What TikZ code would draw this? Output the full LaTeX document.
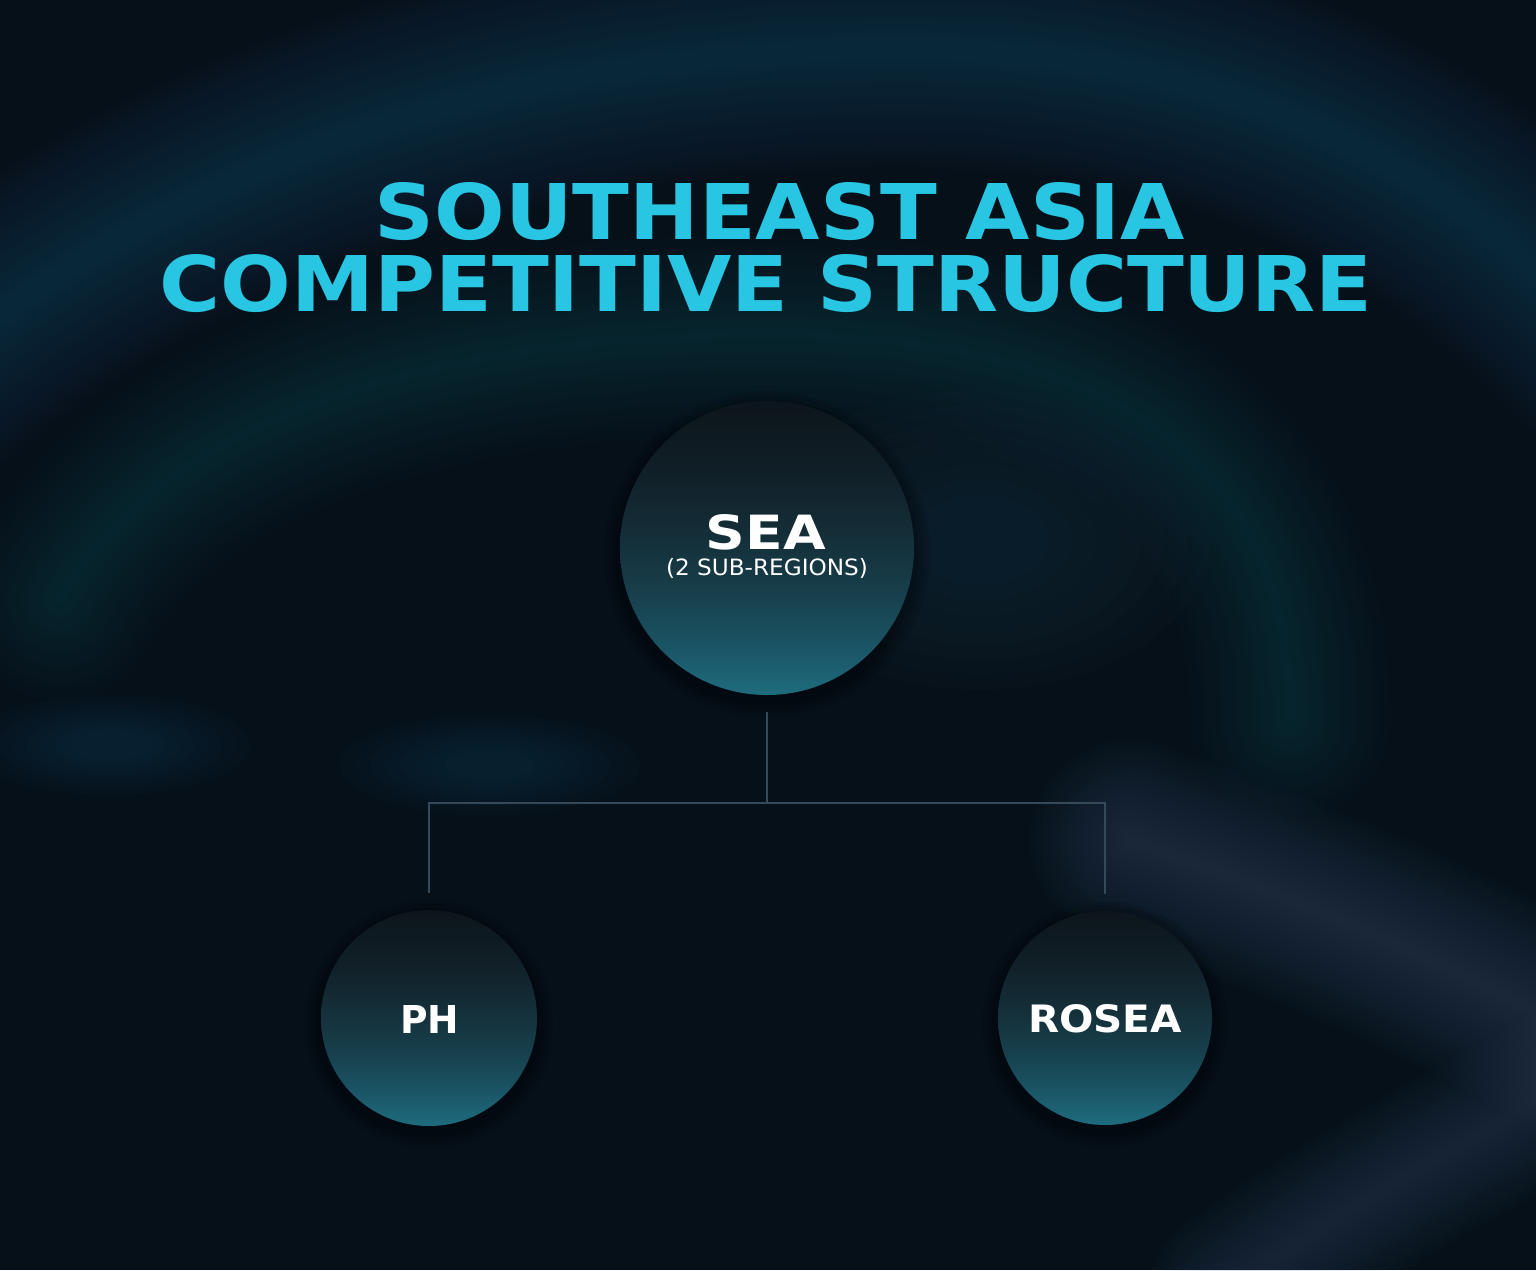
\documentclass[tikz,border=0pt]{standalone}
\usepackage{fontspec}
\setmainfont{DejaVu Sans}
\definecolor{bgbase}{HTML}{061019}
\definecolor{titlecol}{HTML}{29C6E3}
\definecolor{bandA}{HTML}{3A6A8C}
\definecolor{bandB}{HTML}{285675}
\definecolor{bandC}{HTML}{5A7A94}
\definecolor{glowT}{HTML}{11597A}
\definecolor{conncol}{HTML}{34495A}
\definecolor{cA}{HTML}{1E6C7E}
\definecolor{cB}{HTML}{1A5566}
\definecolor{cC}{HTML}{17404C}
\definecolor{cD}{HTML}{142D37}
\definecolor{cE}{HTML}{101E26}
\definecolor{cF}{HTML}{0C151B}
\pgfdeclareverticalshading{bub}{100bp}{color(0bp)=(cA); color(25bp)=(cA); color(33bp)=(cB); color(42bp)=(cC); color(53bp)=(cD); color(64bp)=(cE); color(75bp)=(cF); color(100bp)=(cF)}
\tikzset{
  conn/.style={draw=conncol, line width=2bp},
  bubble/.style={circle, inner sep=0pt, shading=bub, draw=none},
  lbl/.style={inner sep=0pt, text=white, font=\bfseries},
  ttl/.style={inner sep=0pt, text=titlecol, font=\bfseries},
}
\newcommand{\softband}[3]{%
  \foreach \w in {10,20,...,#3}{%
    \draw[#1, line width=\w bp, opacity=0.02, line cap=round] #2;}}
\begin{document}
\begin{tikzpicture}[x=1bp,y=-1bp]
\path[use as bounding box, fill=bgbase] (0,0) rectangle (1536,1270);
\begin{scope}
\clip (0,0) rectangle (1536,1270);
% soft swirling background
\softband{bandA}{(-60,360) .. controls (150,190) and (450,60) .. (850,50) .. controls (1150,40) and (1400,120) .. (1600,330)}{240}
\softband{bandB}{(60,600) .. controls (170,400) and (480,330) .. (800,335) .. controls (1100,345) and (1290,450) .. (1290,720)}{200}
\softband{bandC}{(1130,840) .. controls (1300,900) and (1450,960) .. (1620,1060)}{200}
\softband{bandC}{(1230,1290) .. controls (1340,1210) and (1450,1150) .. (1580,1080)}{160}
\foreach \r in {1,0.9,...,0.2}{
  \fill[glowT, opacity=0.04] (110,745) ellipse ({140*\r} and {50*\r});
  \fill[glowT, opacity=0.035] (490,765) ellipse ({150*\r} and {50*\r});
  \fill[bandB, opacity=0.03] (980,540) ellipse ({230*\r} and {150*\r});
}
\end{scope}
% title
\node[ttl] (t1) at (780,211.5) {\resizebox{810bp}{57bp}{SOUTHEAST ASIA}};
\node[ttl] (t2) at (766,284) {\resizebox{1212bp}{57bp}{COMPETITIVE STRUCTURE}};
% shadows of circles
\foreach \d in {16,12,8,4}{
  \fill[black, opacity=0.09] (767,554) circle ({147+\d});
  \fill[black, opacity=0.09] (429,1024) circle ({108+\d});
  \fill[black, opacity=0.09] (1105,1024) circle ({107+\d});
}
% circles
\node[bubble, minimum size=294bp] (sea) at (767,548) {};
\node[bubble, minimum size=216bp] (ph) at (429,1018) {};
\node[bubble, minimum size=214bp] (rosea) at (1105,1018) {};
% labels
\node[lbl] (seaT) at (766,532.5) {\resizebox{120bp}{35bp}{SEA}};
\node[lbl, font=\normalfont] (seaS) at (767,568) {\resizebox*{202bp}{20bp}{(2 SUB-REGIONS)}};
\node[lbl] (phT) at (429.5,1019) {\resizebox{59bp}{28bp}{PH}};
\node[lbl] (roseaT) at (1105,1019) {\resizebox{154bp}{28bp}{ROSEA}};
% connectors
\coordinate (j) at (767,803);
\draw[conn] ([yshift=-17bp]sea.south) -- (j);
\draw[conn] ([yshift=17bp]ph.north) |- (j) -| ([yshift=17bp]rosea.north);
\end{tikzpicture}
\end{document}
